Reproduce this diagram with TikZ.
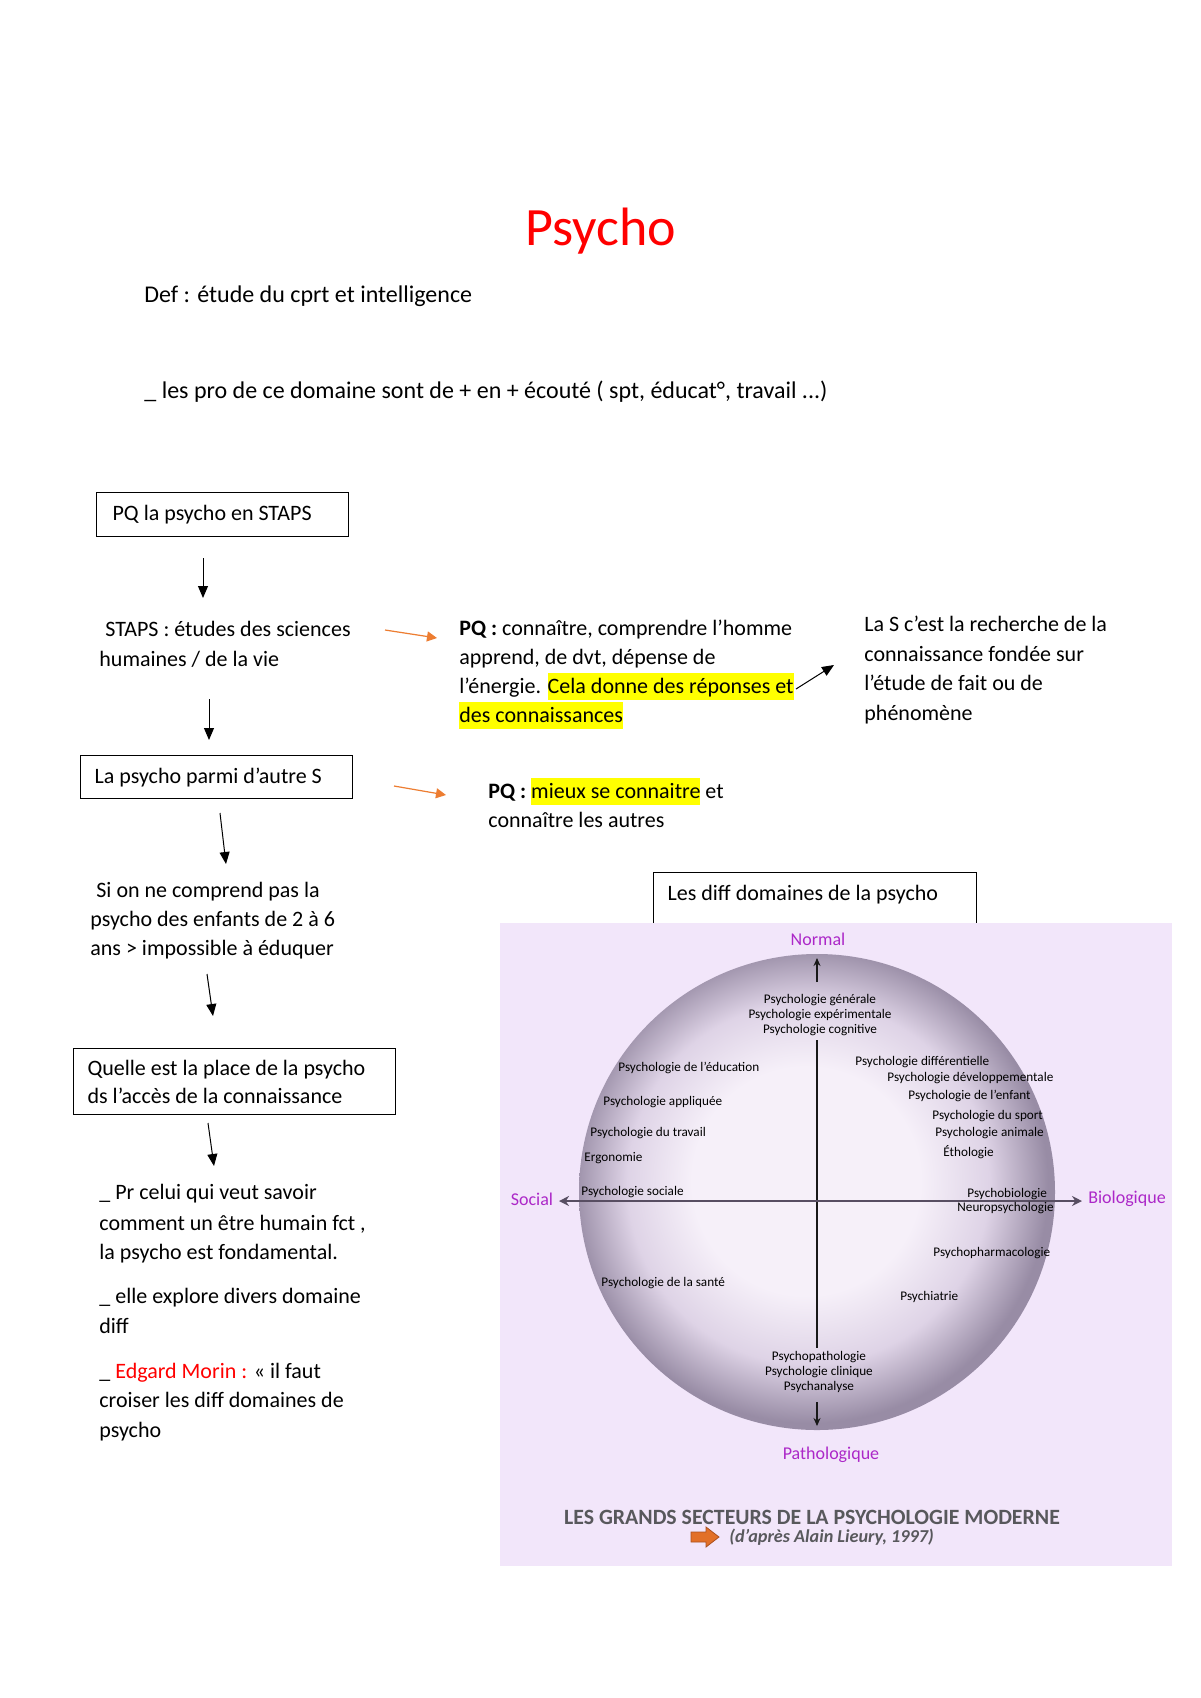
\documentclass[tikz,border=0pt]{standalone}
\usepackage{fontspec}
\setmainfont{Carlito}
\usetikzlibrary{arrows.meta}
\definecolor{hlyellow}{RGB}{255,255,0}
\definecolor{offorange}{RGB}{237,125,49}
\definecolor{titlered}{RGB}{255,0,0}
\definecolor{imgbg}{RGB}{242,230,250}
\definecolor{axlabel}{RGB}{172,40,200}
\definecolor{sphin}{RGB}{246,240,249}
\definecolor{sphmid}{RGB}{222,211,230}
\definecolor{sphout}{RGB}{152,140,165}
\definecolor{captiongray}{RGB}{88,88,92}
\definecolor{blockarrow}{RGB}{226,112,40}
\definecolor{blockedge}{RGB}{170,80,30}
\definecolor{axisgray}{RGB}{88,78,98}
\newcommand{\hlt}[1]{{\setlength{\fboxsep}{0pt}\colorbox{hlyellow}{\rule[-3.7pt]{0pt}{13.7pt}#1}}}
\pgfdeclareradialshading{sphereshade}{\pgfpoint{-1.5bp}{1.5bp}}{color(0bp)=(sphin); color(12bp)=(sphin); color(19bp)=(sphmid); color(25bp)=(sphout); color(50bp)=(sphout)}
\tikzset{
  body/.style={font=\fontsize{11}{13}\selectfont, inner sep=0pt, anchor=base west},
  head/.style={font=\fontsize{12}{14}\selectfont, inner sep=0pt, anchor=base west},
  boxnode/.style={draw, line width=0.6pt, anchor=north west, align=left,
    font=\fontsize{11}{14}\selectfont, inner ysep=0pt},
  darr/.style={line width=0.5pt, -{Triangle[length=6pt,width=5pt]}},
  oarr/.style={draw=offorange, line width=0.6pt, -{Triangle[length=5pt,width=5pt]}, color=offorange},
  small/.style={font=\fontsize{6.6}{7}\selectfont, inner sep=0pt, text=black},
  axlab/.style={font=\fontsize{9}{10}\selectfont, text=axlabel, inner sep=0pt},
  axisv/.style={line width=0.6pt, black!90},
}
\begin{document}
\begin{tikzpicture}[x=0.5pt,y=-0.5pt]
\useasboundingbox (0,0) rectangle (1200,1698);
\fill[white] (0,0) rectangle (1200,1698);

% header
\node[font=\fontsize{27}{30}\selectfont, text=titlered, anchor=base, inner sep=0pt] (title) at (601,245) {Psycho};
\node[head] (def) at (144,302) {Def : étude du cprt et intelligence};
\node[head] (pro) at (144,398) {\_ les pro de ce domaine sont de + en + écouté ( spt, éducat°, travail ...)};

% left column
\node[boxnode, text width=110pt, inner xsep=8pt, minimum height=22pt] (b1) at (96,492) {\spaceskip=0pt\relax PQ la psycho en STAPS};
\node[body] (staps1) at (105,636) {STAPS : études des sciences};
\node[body] (staps2) at (99,666) {humaines / de la vie};
\node[boxnode, text width=122pt, inner xsep=7pt, minimum height=21.5pt] (b2) at (80,755) {\spaceskip=0pt\relax La psycho parmi d’autre S};
\node[body] (si1) at (96,897) {Si on ne comprend pas la};
\node[body] (si2) at (90,926) {psycho des enfants de 2 à 6};
\node[body] (si3) at (90,955) {ans > impossible à éduquer};
\node[boxnode, text width=147pt, inner xsep=7pt, minimum height=33pt] (b3) at (73,1048) {\spaceskip=0pt\relax Quelle est la place de la psycho\\ds l’accès de la connaissance};
\node[body] (pr1) at (99,1199) {\_ Pr celui qui veut savoir};
\node[body] (pr2) at (99,1230) {comment un être humain fct ,};
\node[body] (pr3) at (99,1259) {la psycho est fondamental.};
\node[body] (el1) at (99,1303) {\_ elle explore divers domaine};
\node[body] (el2) at (99,1333) {diff};
\node[body] (ed1) at (99,1378) {\_ \textcolor{titlered}{Edgard Morin :} « il faut};
\node[body] (ed2) at (99,1407) {croiser les diff domaines de};
\node[body] (ed3) at (99,1437) {psycho};

% middle / right texts
\node[body] (pq1) at (459,635) {\textbf{PQ :} connaître, comprendre l’homme};
\node[body] (pq2) at (459,664) {apprend, de dvt, dépense de};
\node[body] (pq3) at (459,693) {l’énergie. \hlt{Cela donne des réponses et}};
\node[body] (pq4) at (459,722) {\hlt{des connaissances}};
\node[body] (ls1) at (864,631) {La S c’est la recherche de la};
\node[body] (ls2) at (864,661) {connaissance fondée sur};
\node[body] (ls3) at (864,690) {l’étude de fait ou de};
\node[body] (ls4) at (864,720) {phénomène};
\node[body] (mx1) at (488,798) {\textbf{PQ :} \hlt{mieux se connaitre} et};
\node[body] (mx2) at (488,827) {connaître les autres};

% arrows
\coordinate (a1s) at (203,558); \coordinate (a1e) at (203,598);
\coordinate (a2s) at (209,699); \coordinate (a2e) at (209,740);
\coordinate (a3s) at (220,813); \coordinate (a3e) at (226,864);
\coordinate (a4s) at (207,974); \coordinate (a4e) at (213,1016);
\coordinate (a5s) at (208,1123); \coordinate (a5e) at (214,1166);
\coordinate (a6s) at (796,689); \coordinate (a6e) at (834,665);
\coordinate (o1s) at (385,630); \coordinate (o1e) at (437,638);
\coordinate (o2s) at (394,786); \coordinate (o2e) at (446,795);
\draw[darr] (a1s) -- (a1e);
\draw[darr] (a2s) -- (a2e);
\draw[darr] (a3s) -- (a3e);
\draw[darr] (a4s) -- (a4e);
\draw[darr] (a5s) -- (a5e);
\draw[darr] (a6s) -- (a6e);
\draw[oarr] (o1s) -- (o1e);
\draw[oarr] (o2s) -- (o2e);

% box above the image
\node[boxnode, text width=147.5pt, inner xsep=7pt, minimum height=26pt, text depth=6pt] (b4) at (653,872) {\spaceskip=0pt\relax Les diff domaines de la psycho};

% image
\fill[imgbg] (500,923) rectangle (1172,1566);
\path[shading=sphereshade] (817,1192) circle[radius=238];

% axes
\coordinate (vt) at (817,958); \coordinate (vt2) at (817,982);
\coordinate (vm1) at (817,1040); \coordinate (vm2) at (817,1348);
\coordinate (vb) at (817,1426); \coordinate (vb2) at (817,1402);
\coordinate (hl) at (559,1201); \coordinate (hr) at (1082,1201);
\draw[axisv, -{Stealth[length=4pt,width=3.5pt]}] (vt2) -- (vt);
\draw[axisv] (vm1) -- (vm2);
\draw[axisv, -{Stealth[length=4pt,width=3.5pt]}] (vb2) -- (vb);
\draw[line width=1.2pt, axisgray, {Stealth[length=5pt,width=5pt]}-{Stealth[length=5pt,width=5pt]}] (hl) -- (hr);

\node[axlab] (normal) at (818,939) {Normal};
\node[axlab] (social) at (532,1199) {Social};
\node[axlab] (bio) at (1127,1199) {Biologique};
\node[axlab] (patho) at (831,1455) {Pathologique};

\node[small] (t1) at (820,1000) {Psychologie générale};
\node[small] (t2) at (820,1015) {Psychologie expérimentale};
\node[small] (t3) at (820,1030) {Psychologie cognitive};
\node[small, anchor=west] (s1) at (618,1068) {Psychologie de l’éducation};
\node[small, anchor=west] (s2) at (603,1102) {Psychologie appliquée};
\node[small, anchor=west] (s3) at (590,1133) {Psychologie du travail};
\node[small, anchor=west] (s4) at (584,1158) {Ergonomie};
\node[small, anchor=west] (s5) at (581,1192) {Psychologie sociale};
\node[small, anchor=west] (r1) at (855,1062) {Psychologie différentielle};
\node[small, anchor=west] (r2) at (887,1078) {Psychologie développementale};
\node[small, anchor=west] (r3) at (908,1096) {Psychologie de l’enfant};
\node[small, anchor=west] (r4) at (932,1116) {Psychologie du sport};
\node[small, anchor=west] (r5) at (935,1133) {Psychologie animale};
\node[small, anchor=west] (r6) at (943,1152) {Éthologie};
\node[small, anchor=west] (r7) at (967,1194) {Psychobiologie};
\node[small, anchor=west] (r8) at (957,1208) {Neuropsychologie};
\node[small, anchor=west] (r9) at (933,1253) {Psychopharmacologie};
\node[small, anchor=west] (l1) at (601,1283) {Psychologie de la santé};
\node[small, anchor=west] (r10) at (900,1297) {Psychiatrie};
\node[small] (p1) at (819,1357) {Psychopathologie};
\node[small] (p2) at (819,1372) {Psychologie clinique};
\node[small] (p3) at (819,1387) {Psychanalyse};

% caption
\node[font=\bfseries\fontsize{10.9}{12}\selectfont, text=captiongray, inner sep=0pt] (cap1) at (812,1517) {LES GRANDS SECTEURS DE LA PSYCHOLOGIE MODERNE};
\filldraw[fill=blockarrow, draw=blockedge, line width=0.4pt] (691,1532) -- (706,1532) -- (706,1527) -- (719,1537) -- (706,1547) -- (706,1542) -- (691,1542) -- cycle;
\node[font=\bfseries\itshape\fontsize{9.1}{10}\selectfont, text=captiongray, anchor=west, inner sep=0pt] (cap2) at (729,1537) {(d’après Alain Lieury, 1997)};
\end{tikzpicture}
\end{document}
